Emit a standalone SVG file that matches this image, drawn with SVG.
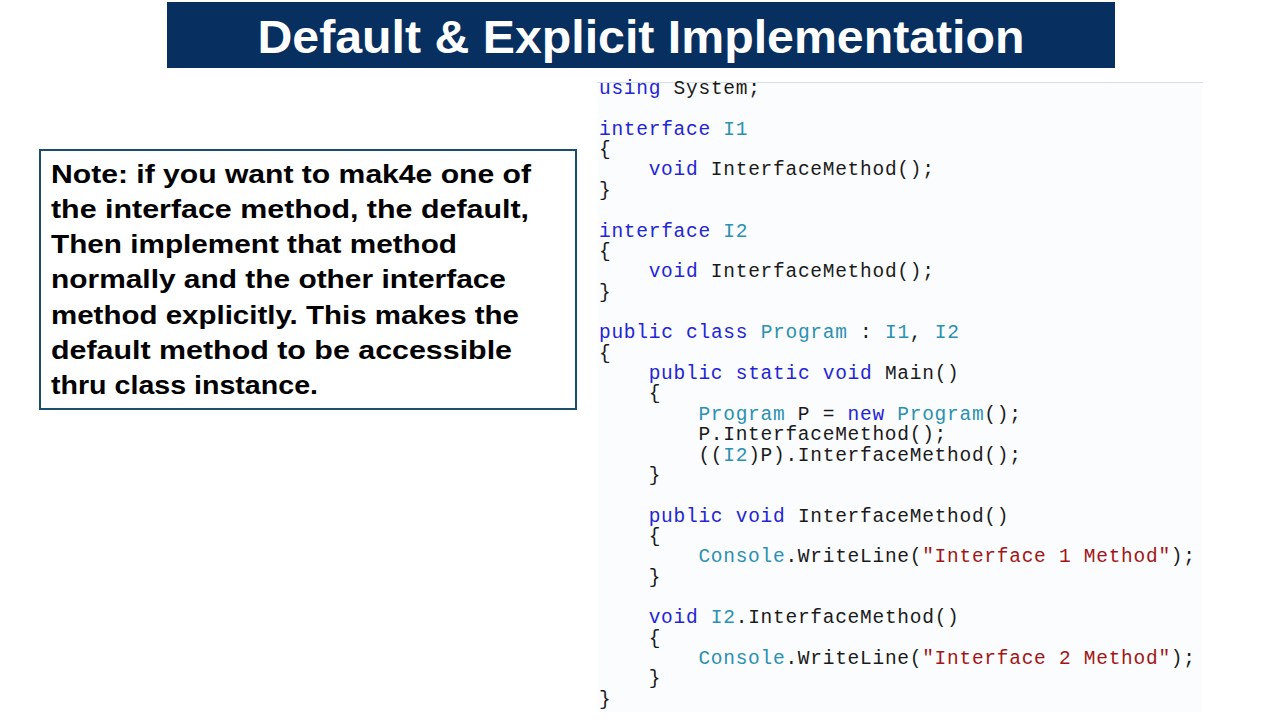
<svg xmlns="http://www.w3.org/2000/svg" width="1280" height="720" viewBox="0 0 1280 720">
<style>
.title{font-family:"Liberation Sans",Arial,sans-serif;font-weight:bold;font-size:46px;fill:#ffffff}
.note{font-family:"Liberation Sans",Arial,sans-serif;font-weight:bold;font-size:26px;fill:#000000}
.code{font-family:"Liberation Mono","DejaVu Sans Mono",monospace;font-size:19.5px;letter-spacing:0.73px;fill:#1a1a1a;white-space:pre}
.kw{fill:#2424d6}
.ty{fill:#2b91af}
.st{fill:#a31515}
</style>
<rect width="1280" height="720" fill="#ffffff"/>
<g id="title">
<rect x="167" y="2" width="948" height="66" fill="#072f5f"/>
<text class="title" x="641" y="53" text-anchor="middle" textLength="767" lengthAdjust="spacingAndGlyphs">Default &amp; Explicit Implementation</text>
</g>
<g id="note">
<rect x="40" y="150" width="536" height="259" fill="#ffffff" stroke="#1b4e6b" stroke-width="2"/>
<text class="note" x="51" y="183" textLength="480" lengthAdjust="spacingAndGlyphs">Note: if you want to mak4e one of</text>
<text class="note" x="51" y="218" textLength="478" lengthAdjust="spacingAndGlyphs">the interface method, the default,</text>
<text class="note" x="51" y="253" textLength="406" lengthAdjust="spacingAndGlyphs">Then implement that method</text>
<text class="note" x="51" y="288" textLength="455" lengthAdjust="spacingAndGlyphs">normally and the other interface</text>
<text class="note" x="51" y="324" textLength="468" lengthAdjust="spacingAndGlyphs">method explicitly. This makes the</text>
<text class="note" x="51" y="359" textLength="461" lengthAdjust="spacingAndGlyphs">default method to be accessible</text>
<text class="note" x="51" y="394" textLength="267" lengthAdjust="spacingAndGlyphs">thru class instance.</text>
</g>
<g id="code">
<rect x="597" y="82" width="606" height="630" fill="#fafcfe"/>
<line x1="597" y1="82.5" x2="1203" y2="82.5" stroke="#d5dde5" stroke-width="1.2"/>
<g class="code">
<text x="599" y="94"><tspan class="kw">using</tspan> System;</text>
<text x="599" y="134.7"><tspan class="kw">interface</tspan> <tspan class="ty">I1</tspan></text>
<text x="599" y="155.1">{</text>
<text x="648.7" y="175.4"><tspan class="kw">void</tspan> InterfaceMethod();</text>
<text x="599" y="195.8">}</text>
<text x="599" y="236.5"><tspan class="kw">interface</tspan> <tspan class="ty">I2</tspan></text>
<text x="599" y="256.9">{</text>
<text x="648.7" y="277.2"><tspan class="kw">void</tspan> InterfaceMethod();</text>
<text x="599" y="297.6">}</text>
<text x="599" y="338.3"><tspan class="kw">public</tspan> <tspan class="kw">class</tspan> <tspan class="ty">Program</tspan> : <tspan class="ty">I1</tspan>, <tspan class="ty">I2</tspan></text>
<text x="599" y="358.7">{</text>
<text x="648.7" y="379"><tspan class="kw">public</tspan> <tspan class="kw">static</tspan> <tspan class="kw">void</tspan> Main()</text>
<text x="648.7" y="399.4">{</text>
<text x="698.4" y="419.8"><tspan class="ty">Program</tspan> P = <tspan class="kw">new</tspan> <tspan class="ty">Program</tspan>();</text>
<text x="698.4" y="440.1">P.InterfaceMethod();</text>
<text x="698.4" y="460.5">((<tspan class="ty">I2</tspan>)P).InterfaceMethod();</text>
<text x="648.7" y="480.8">}</text>
<text x="648.7" y="521.6"><tspan class="kw">public</tspan> <tspan class="kw">void</tspan> InterfaceMethod()</text>
<text x="648.7" y="541.9">{</text>
<text x="698.4" y="562.3"><tspan class="ty">Console</tspan>.WriteLine(<tspan class="st">"Interface 1 Method"</tspan>);</text>
<text x="648.7" y="582.6">}</text>
<text x="648.7" y="623.4"><tspan class="kw">void</tspan> <tspan class="ty">I2</tspan>.InterfaceMethod()</text>
<text x="648.7" y="643.7">{</text>
<text x="698.4" y="664.1"><tspan class="ty">Console</tspan>.WriteLine(<tspan class="st">"Interface 2 Method"</tspan>);</text>
<text x="648.7" y="684.4">}</text>
<text x="599" y="704.8">}</text>
</g>
</g>
</svg>
